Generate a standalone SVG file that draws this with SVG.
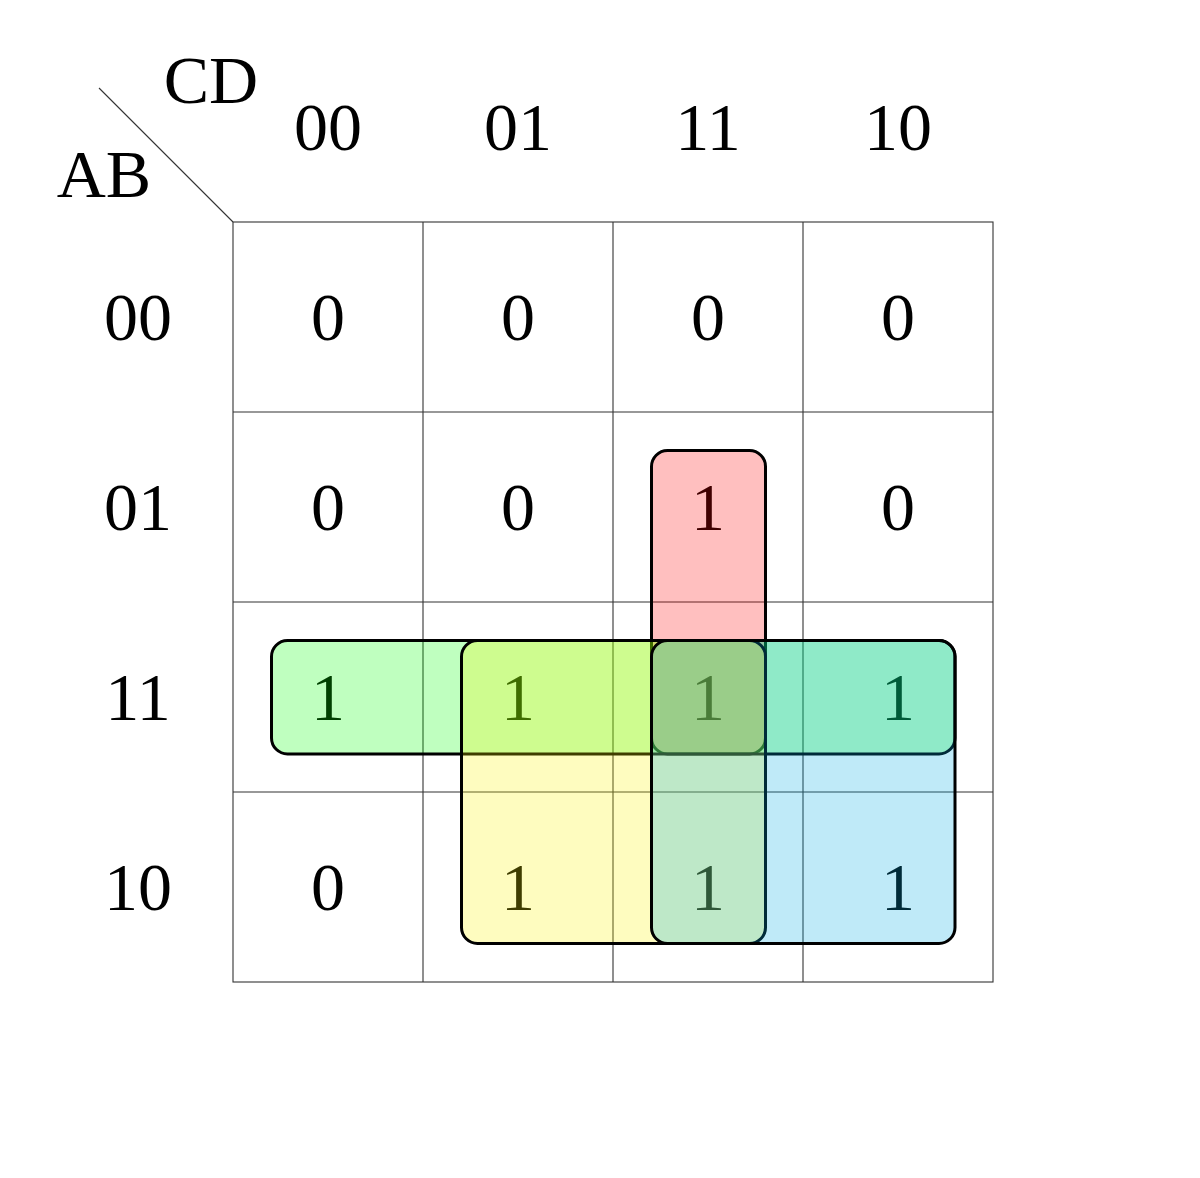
<svg xmlns="http://www.w3.org/2000/svg" width="1200" height="1178" viewBox="0 0 1200 1178">
<style>
  text { font-family: "Liberation Serif", "Times New Roman", serif; font-size: 68px; fill: #000; text-anchor: middle; }
  .grid { stroke: #333; stroke-width: 1.1; fill: none; }
  .grp { stroke: #000; stroke-width: 3; fill-opacity: 0.25; }
</style>
<rect width="1200" height="1178" fill="#fff"/>
<g id="connectors">
  <line class="grid" x1="99" y1="88" x2="233" y2="222"/>
</g>
<g id="grid">
  <rect class="grid" x="233" y="222" width="760" height="760"/>
  <line class="grid" x1="423" y1="222" x2="423" y2="982"/>
  <line class="grid" x1="613" y1="222" x2="613" y2="982"/>
  <line class="grid" x1="803" y1="222" x2="803" y2="982"/>
  <line class="grid" x1="233" y1="412" x2="993" y2="412"/>
  <line class="grid" x1="233" y1="602" x2="993" y2="602"/>
  <line class="grid" x1="233" y1="792" x2="993" y2="792"/>
</g>
<g id="axis-labels">
  <text x="211" y="103">CD</text>
  <text x="104" y="197">AB</text>
  <text x="328" y="150">00</text>
  <text x="518" y="150">01</text>
  <text x="708" y="150">11</text>
  <text x="898" y="150">10</text>
  <text x="138" y="340">00</text>
  <text x="138" y="530">01</text>
  <text x="138" y="720">11</text>
  <text x="138" y="910">10</text>
</g>
<g id="cells">
  <text x="328" y="340">0</text><text x="518" y="340">0</text><text x="708" y="340">0</text><text x="898" y="340">0</text>
  <text x="328" y="530">0</text><text x="518" y="530">0</text><text x="708" y="530">1</text><text x="898" y="530">0</text>
  <text x="328" y="720">1</text><text x="518" y="720">1</text><text x="708" y="720">1</text><text x="898" y="720">1</text>
  <text x="328" y="910">0</text><text x="518" y="910">1</text><text x="708" y="910">1</text><text x="898" y="910">1</text>
</g>
<g id="group-red">
  <rect class="grp" x="651.5" y="450.5" width="114" height="303.5" rx="16" fill="#ff0000"/>
</g>
<g id="group-green">
  <rect class="grp" x="271.5" y="640.5" width="683.5" height="113.5" rx="16" fill="#00ff00"/>
</g>
<g id="group-yellow">
  <rect class="grp" x="461.5" y="640.5" width="304" height="303" rx="16" fill="#faf200"/>
</g>
<g id="group-blue">
  <rect class="grp" x="651.5" y="640.5" width="303.5" height="303" rx="16" fill="#00aae4"/>
</g>
</svg>
